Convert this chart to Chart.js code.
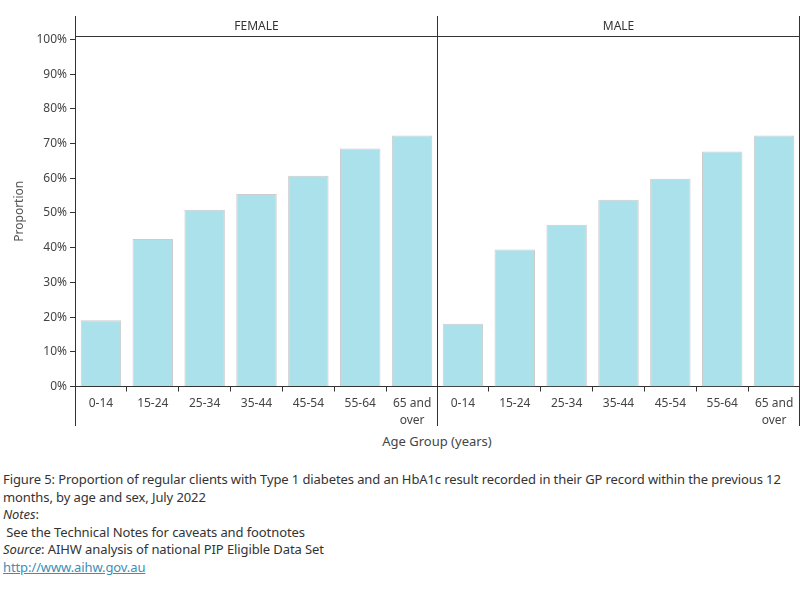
<!DOCTYPE html>
<html>
<head>
<meta charset="utf-8">
<script src="https://cdn.jsdelivr.net/npm/chart.js@4"></script>
<style>
  body { margin: 0; background: #fff; font-family: "Noto Sans", sans-serif; }
  #wrap { position: relative; width: 800px; height: 600px; }
  #femaleChart { position: absolute; left: 0; top: 0; }
  #maleChart { position: absolute; left: 437px; top: 0; }
  #xTitle { position: absolute; left: 337px; width: 200px; top: 432px; text-align: center; font-size: 13px; color: #444; }
  #caption { position: absolute; left: 3px; top: 471px; width: 800px; font-size: 13px; letter-spacing: -0.1px; line-height: 17.6px; color: #333; }
  #caption a { color: #3a8fb7; }
</style>
</head>
<body>
<div id="wrap">
  <canvas id="femaleChart" width="438" height="430"></canvas>
  <canvas id="maleChart" width="363" height="430"></canvas>
  <div id="xTitle">Age Group (years)</div>
  <div id="caption">
    Figure 5: Proportion of regular clients with Type 1 diabetes and an HbA1c result recorded in their GP record within the previous 12 months, by age and sex, July 2022<br>
    <i>Notes</i>:<br>
    &nbsp;See the Technical Notes for caveats and footnotes<br>
    <i>Source</i>: AIHW analysis of national PIP Eligible Data Set<br>
    <a href="#">http://www.aihw.gov.au</a>
  </div>
</div>
<script>
const ageGroups = ['0-14', '15-24', '25-34', '35-44', '45-54', '55-64', ['65 and', 'over']];
const femaleValues = [19.1, 42.5, 50.9, 55.5, 60.7, 68.6, 72.3];
const maleValues = [18.1, 39.5, 46.6, 53.8, 59.9, 67.7, 72.3];
const yTicks = [0, 10, 20, 30, 40, 50, 60, 70, 80, 90, 100];

const lineColor = '#333';
const tickFont = { family: 'Noto Sans', size: 12, lineHeight: 1.45 };

// header strip and panel frame lines (Tableau style facets)
const panelFrame = {
  id: 'panelFrame',
  afterDraw(chart, args, opts) {
    const { ctx, chartArea } = chart;
    ctx.save();
    ctx.strokeStyle = lineColor;
    ctx.lineWidth = 1;
    ctx.beginPath();
    const left = Math.round(chartArea.left) + 0.5;
    const right = Math.round(chartArea.right) - 0.5;
    const top = Math.round(chartArea.top) + 0.5;
    if (opts.leftLine) {
      ctx.moveTo(left, 16);
      ctx.lineTo(left, 426);
    }
    ctx.moveTo(right, 16);
    ctx.lineTo(right, 426);
    ctx.moveTo(chartArea.left, top);
    ctx.lineTo(chartArea.right, top);
    ctx.stroke();
    ctx.fillStyle = '#333';
    ctx.font = '12px "Noto Sans"';
    ctx.textAlign = 'center';
    ctx.textBaseline = 'middle';
    ctx.fillText(opts.label, (chartArea.left + chartArea.right) / 2, 27);
    ctx.restore();
  }
};

function makeChart(id, label, values, showY) {
  return new Chart(document.getElementById(id), {
    type: 'bar',
    data: {
      labels: ageGroups,
      datasets: [{
        label: label,
        data: values,
        backgroundColor: '#abe1ea',
        borderColor: '#cccccc',
        borderWidth: 1,
        barPercentage: 0.78,
        categoryPercentage: 1
      }]
    },
    plugins: [panelFrame],
    options: {
      responsive: false,
      animation: false,
      layout: { padding: { top: 36, left: 0, right: 0, bottom: 0 } },
      plugins: {
        legend: { display: false },
        tooltip: { enabled: false },
        panelFrame: { label: label, leftLine: showY }
      },
      scales: {
        x: {
          grid: { offset: true, drawOnChartArea: false, drawTicks: true, tickLength: 5, color: lineColor },
          border: { display: true, color: lineColor },
          ticks: { color: '#444', font: tickFont, maxRotation: 0, autoSkip: false, padding: 3 },
          afterFit(axis) { axis.height = 43.5; }
        },
        y: {
          display: showY,
          min: 0,
          max: 101,
          afterBuildTicks(axis) { axis.ticks = yTicks.map(v => ({ value: v })); },
          afterFit(axis) { axis.width = showY ? 75 : 0; },
          grid: { drawOnChartArea: false, drawTicks: true, tickLength: 5, color: lineColor },
          border: { display: true, color: lineColor },
          ticks: { color: '#444', font: { family: 'Noto Sans', size: 12 }, padding: 3, callback: v => v + '%' },
          title: { display: true, text: 'Proportion', color: '#555', font: { family: 'Noto Sans', size: 12 }, padding: { top: 12, bottom: 0 } }
        }
      }
    }
  });
}

makeChart('femaleChart', 'FEMALE', femaleValues, true);
makeChart('maleChart', 'MALE', maleValues, false);
</script>
</body>
</html>
